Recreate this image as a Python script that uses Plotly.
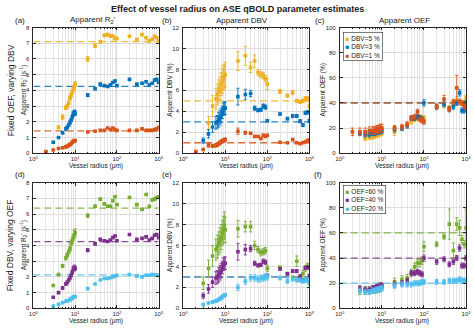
import plotly.graph_objects as go

# ---------------- data ----------------
radii = [2, 3, 4, 5, 6, 6.5, 7, 7.5, 8, 8.5, 9, 9.5, 10, 20, 30, 40, 50, 60, 70, 80, 90, 100,
         200, 300, 400, 500, 600, 700, 800, 900, 1000]

# (a) Apparent R2' , fixed OEF, varying DBV
r2_dbv5 = [None, None, 1.65, 2.3, 2.9, 3.0, 3.2, 3.5, 3.7, 3.9, 4.05, 4.2, 4.4, 6.0, 6.85, 7.1, 7.5, 7.55,
           7.45, 7.45, 7.3, 7.3, 7.45, 7.25, 7.55, 7.35, 7.15, 7.25, 7.45, 7.35, 7.15]
r2_dbv5_err = [0, 0, 0.1, 0.15, 0.12, 0.12, 0.12, 0.12, 0.12, 0.12, 0.12, 0.12, 0.15, 0.15, 0.12, 0.08, 0.08,
               0.08, 0.08, 0.08, 0.08, 0.08, 0.05, 0.05, 0.05, 0.05, 0.05, 0.05, 0.05, 0.05, 0.05]
r2_dbv3 = [None, 0.7, 1.0, 1.3, 1.55, 1.65, 1.8, 1.95, 2.1, 2.3, 2.5, 2.6, 2.55, 3.7, 4.1, 4.4, 4.3, 4.25,
           4.35, 4.5, 4.6, 4.3, 4.7, 4.4, 4.45, 4.55, 4.35, 4.45, 4.65, 4.7, 4.5]
r2_dbv3_err = [0, 0.05, 0.06, 0.08, 0.08, 0.08, 0.1, 0.1, 0.1, 0.12, 0.15, 0.15, 0.15, 0.1, 0.06, 0.05, 0.05,
               0.05, 0.05, 0.05, 0.05, 0.05, 0.04, 0.04, 0.04, 0.04, 0.04, 0.04, 0.04, 0.04, 0.04]
r2_dbv1 = [0.1, 0.2, 0.3, 0.35, 0.4, 0.45, 0.5, 0.55, 0.6, 0.7, 0.75, 0.8, 0.8, 1.35, 1.4, 1.45, 1.45, 1.6,
           1.5, 1.6, 1.5, 1.45, 1.45, 1.45, 1.55, 1.45, 1.45, 1.45, 1.5, 1.55, 1.65]
r2_dbv1_err = [0.03] * 31

# (b) Apparent DBV (%)
dbv_dbv5 = [None, None, 2.9, 4.5, 5.2, 5.6, 5.9, 6.2, 6.6, 6.9, 7.2, 7.3, 7.5, 8.8, 9.3, 8.2, 8.8, 7.7,
            7.5, 7.4, 7.1, 6.6, 5.9, 5.5, 5.8, 5.0, 4.9, 5.0, 5.2, 5.2, 4.5]
dbv_dbv5_err = [0, 0, 0.6, 1.0, 1.0, 1.0, 1.1, 1.1, 1.1, 1.2, 1.2, 1.2, 1.2, 0.9, 0.9, 0.5, 0.6, 0.3, 0.3,
                0.3, 0.3, 0.5, 0.2, 0.15, 0.2, 0.15, 0.15, 0.15, 0.2, 0.2, 0.2]
dbv_dbv3 = [None, 1.2, 1.85, 2.5, 2.9, 3.0, 3.2, 3.4, 3.6, 3.9, 4.2, 4.3, 4.3, 5.4, 5.6, 5.7, 4.3, 4.1,
            4.15, 4.5, 4.4, 3.1, 3.75, 3.3, 3.55, 3.55, 3.05, 2.7, 3.85, 3.9, 3.1]
dbv_dbv3_err = [0, 0.25, 0.4, 0.5, 0.6, 0.6, 0.7, 0.7, 0.7, 0.6, 0.6, 0.6, 0.6, 0.8, 0.5, 0.3, 0.2, 0.15,
                0.15, 0.2, 0.2, 0.1, 0.1, 0.1, 0.15, 0.15, 0.15, 0.15, 0.15, 0.15, 0.15]
dbv_dbv1 = [0.15, 0.35, 0.75, 0.7, 0.75, 0.8, 0.9, 1.0, 1.1, 1.15, 1.2, 1.25, 1.3, 2.1, 1.95, 1.9, 1.6,
            1.6, 1.4, 1.7, 1.6, 1.7, 1.05, 1.0, 1.3, 1.0, 0.9, 1.0, 1.1, 1.2, 1.25]
dbv_dbv1_err = [0.05, 0.1, 0.15, 0.15, 0.15, 0.15, 0.15, 0.15, 0.15, 0.15, 0.15, 0.15, 0.15, 0.3, 0.15,
                0.1, 0.1, 0.1, 0.1, 0.1, 0.1, 0.1, 0.05, 0.05, 0.05, 0.05, 0.05, 0.05, 0.05, 0.05, 0.05]

# (c) Apparent OEF (%)
oef_dbv5 = [None, None, 12, 13, 13, 14, 14, 15, 15, 15, 16, 16, 16, 17, 20, 22, 25, 27, 28, 29, 28, 28,
            37, 38, 36, 40, 42, 41, 40, 40, 44]
oef_dbv5_err = [0, 0, 2, 2, 2, 2, 2, 2, 2, 2, 2, 2, 2, 3, 2, 2, 2, 2, 2, 2, 2, 2, 2, 2, 2, 2, 3, 2, 2, 2, 2]
oef_dbv3 = [None, 16, 15, 15, 16, 16, 16, 17, 17, 17, 18, 18, 18, 19, 20, 22, 28, 28, 29, 28, 27, 40,
            37, 39, 35, 37, 40, 48, 34, 34, 40]
oef_dbv3_err = [0, 2, 2, 2, 2, 2, 2, 2, 2, 2, 2, 2, 2, 2, 2, 2, 2, 2, 2, 2, 2, 2.5, 2, 2, 2, 2, 2, 2.5, 2, 2, 2]
oef_dbv1 = [17, 17, 17, 18, 18, 18, 18, 19, 19, 19, 20, 20, 20, 20, 21, 23, 28, 29, 33, 27, 26, 25,
            37, 43, 35, 41, 52, 41, 40, 38, 36]
oef_dbv1_err = [3, 3, 3, 3, 3, 3, 3, 3, 3, 3, 3, 3, 3, 2, 2, 2, 2, 2, 2, 2, 2, 2, 2, 3, 2, 2, 10, 2, 2, 2, 2]

# (d) Apparent R2', fixed DBV, varying OEF
r2_oef60 = [None, 1.45, 2.15, 2.7, 3.2, 3.4, 3.6, 3.8, 4.15, 4.3, 4.5, 4.7, 4.8, 5.9, 6.5, 6.95, 6.65, 6.5,
            6.5, 6.85, 7.1, 6.6, 7.05, 6.6, 6.3, 7.25, 6.5, 6.9, 6.95, 7.05, 7.1]
r2_oef60_err = [0, 0.06, 0.08, 0.1, 0.12, 0.12, 0.12, 0.15, 0.2, 0.2, 0.2, 0.25, 0.25, 0.1, 0.08, 0.06,
                0.06, 0.06, 0.06, 0.06, 0.06, 0.06, 0.05, 0.05, 0.05, 0.05, 0.05, 0.05, 0.05, 0.05, 0.05]
r2_oef40 = r2_dbv3
r2_oef40_err = r2_dbv3_err
r2_oef20 = [None, 0.15, 0.25, 0.35, 0.45, 0.48, 0.5, 0.55, 0.6, 0.65, 0.7, 0.75, 0.75, 1.25, 1.55, 1.8,
            1.9, 1.9, 1.95, 2.0, 2.05, 2.1, 2.15, 2.05, 2.0, 2.1, 2.1, 2.15, 2.1, 2.1, 2.1]
r2_oef20_err = [0.02] * 31

# (e) Apparent DBV (%)
dbv_oef60 = [None, 2.4, 3.8, 5.0, 5.6, 5.9, 6.2, 6.5, 6.8, 7.2, 7.5, 7.9, 7.5, 7.6, 7.8, 7.8, 6.0, 5.6,
             5.3, 5.4, 5.5, 3.8, 3.9, 3.3, 2.9, 4.5, 2.9, 3.3, 3.8, 4.0, 2.5]
dbv_oef60_err = [0, 0.6, 0.8, 1.0, 1.0, 1.1, 1.1, 1.2, 1.2, 1.2, 1.3, 1.3, 1.2, 0.8, 0.5, 0.5, 0.4, 0.3,
                 0.3, 0.3, 0.3, 0.3, 0.15, 0.15, 0.2, 0.5, 0.2, 0.3, 0.3, 0.3, 0.3]
dbv_oef40 = dbv_dbv3
dbv_oef40_err = dbv_dbv3_err
dbv_oef20 = [None, 0.35, 0.5, 0.6, 0.7, 0.75, 0.85, 0.9, 1.0, 1.1, 1.15, 1.25, 1.3, 2.0, 2.6, 2.9, 2.9,
             2.8, 2.85, 2.9, 3.0, 3.0, 2.9, 2.6, 2.8, 2.7, 2.7, 2.6, 2.7, 2.7, 2.5]
dbv_oef20_err = [0, 0.08, 0.08, 0.1, 0.1, 0.1, 0.1, 0.1, 0.1, 0.1, 0.12, 0.12, 0.12, 0.3, 0.3, 0.3, 0.3,
                 0.3, 0.3, 0.3, 0.3, 0.3, 0.2, 0.2, 0.2, 0.2, 0.2, 0.2, 0.2, 0.2, 0.2]

# (f) Apparent OEF (%)
oef_oef60 = [None, 14, 14, 14, 15, 15, 15, 16, 16, 16, 17, 17, 17, 21, 23, 24, 28, 33, 36, 36, 38, 49,
             51, 57, 67, 46, 67, 64, 55, 51, 64]
oef_oef60_err = [0, 3, 3, 3, 3, 3, 3, 3, 3, 3, 3, 3, 3, 3, 3, 3, 3, 3, 3, 3, 3, 4, 2, 2, 12, 6, 5, 6, 3, 3,
                 15]
oef_oef40 = oef_dbv3
oef_oef40_err = oef_dbv3_err
oef_oef20 = [None, 14, 13, 13, 14, 14, 14, 15, 15, 15, 15, 16, 16, 18, 19, 19, 19, 20, 20, 20, 21, 21,
             21, 21, 22, 22, 22, 23, 22, 22, 22]
oef_oef20_err = [2] * 31

# true (simulated) values shown as dashed lines
true_r2_top = [7.1, 4.25, 1.42]
true_dbv_top = [5, 3, 1]
true_oef_top = [40, 40, 40]
true_r2_bot = [6.38, 4.25, 2.13]
true_dbv_bot = [3, 3, 3]
true_oef_bot = [60, 40, 20]

labels_top = ["DBV=5 %", "DBV=3 %", "DBV=1 %"]
labels_bot = ["OEF=60 %", "OEF=40 %", "OEF=20 %"]
colors_top = ["#EDB120", "#0072BD", "#D95319"]
colors_bot = ["#77AC30", "#7E2F8E", "#4DBEEE"]

x_range = [1, 1000]

# ---------------- figure ----------------
W, H = 474, 328
fig = go.Figure()

panels = [
    (1, [r2_dbv5, r2_dbv3, r2_dbv1], [r2_dbv5_err, r2_dbv3_err, r2_dbv1_err], true_r2_top, colors_top, labels_top),
    (2, [dbv_dbv5, dbv_dbv3, dbv_dbv1], [dbv_dbv5_err, dbv_dbv3_err, dbv_dbv1_err], true_dbv_top, colors_top, labels_top),
    (3, [oef_dbv5, oef_dbv3, oef_dbv1], [oef_dbv5_err, oef_dbv3_err, oef_dbv1_err], true_oef_top, colors_top, labels_top),
    (4, [r2_oef60, r2_oef40, r2_oef20], [r2_oef60_err, r2_oef40_err, r2_oef20_err], true_r2_bot, colors_bot, labels_bot),
    (5, [dbv_oef60, dbv_oef40, dbv_oef20], [dbv_oef60_err, dbv_oef40_err, dbv_oef20_err], true_dbv_bot, colors_bot, labels_bot),
    (6, [oef_oef60, oef_oef40, oef_oef20], [oef_oef60_err, oef_oef40_err, oef_oef20_err], true_oef_bot, colors_bot, labels_bot),
]

for idx, series, errs, truths, cols, labs in panels:
    xa = "x" if idx == 1 else f"x{idx}"
    ya = "y" if idx == 1 else f"y{idx}"
    for t, c in zip(truths, cols):
        fig.add_trace(go.Scatter(x=x_range, y=[t, t], mode="lines", xaxis=xa, yaxis=ya,
                                 line=dict(color=c, width=1.3, dash="7px,4px"), opacity=0.85,
                                 showlegend=False, hoverinfo="skip"))
    for s, e, c, lab in zip(series, errs, cols, labs):
        fig.add_trace(go.Scatter(
            x=radii, y=s, mode="markers", xaxis=xa, yaxis=ya, name=lab,
            marker=dict(color=c, size=3.6, symbol="square"),
            error_y=dict(type="data", array=e, color=c, thickness=0.9, width=1.6),
            showlegend=False))

font_family = "Liberation Sans, Arial, sans-serif"
axcol = "#262626"

xdoms = [[29 / W, 157 / W], [182 / W, 311 / W], [342 / W, 471 / W]]
ydoms = [[1 - 153 / H, 1 - 25 / H], [1 - 311 / H, 1 - 183 / H]]
yranges = [[0, 8], [0, 12], [0, 100]]
ydticks = [1, 2, 20]

minor_vals = [m * 10 ** k for k in range(3) for m in range(2, 10)]

for i in range(6):
    row, col = divmod(i, 3)
    n = i + 1
    xkey = "xaxis" if n == 1 else f"xaxis{n}"
    ykey = "yaxis" if n == 1 else f"yaxis{n}"
    yid = "y" if n == 1 else f"y{n}"
    xid = "x" if n == 1 else f"x{n}"
    fig.layout[xkey] = dict(
        domain=xdoms[col], anchor=yid, type="log", range=[0, 3],
        tickmode="array", tickvals=[1, 10, 100, 1000],
        ticktext=["10<sup>0</sup>", "10<sup>1</sup>", "10<sup>2</sup>", "10<sup>3</sup>"],
        showline=True, linecolor=axcol, linewidth=0.8, mirror="ticks",
        ticks="inside", ticklen=3, tickcolor=axcol, tickwidth=0.6,
        showgrid=True, gridcolor="#dcdcdc", gridwidth=0.6,
        minor=dict(tickmode="array", tickvals=minor_vals, ticks="inside", ticklen=1.5,
                   tickcolor=axcol, tickwidth=0.5, showgrid=True, gridcolor="#e6e6e6", gridwidth=0.6),
        tickfont=dict(size=6, color=axcol, family=font_family),
        zeroline=False, fixedrange=True, ticklabelstandoff=0,
    )
    fig.layout[ykey] = dict(
        domain=ydoms[row], anchor=xid, range=yranges[col], dtick=ydticks[col], tick0=0,
        showline=True, linecolor=axcol, linewidth=0.8, mirror="ticks",
        ticks="inside", ticklen=3, tickcolor=axcol, tickwidth=0.6,
        showgrid=True, gridcolor="#dcdcdc", gridwidth=0.6,
        tickfont=dict(size=6, color=axcol, family=font_family),
        zeroline=False, fixedrange=True, ticklabelstandoff=2,
    )

ann = []


def A(text, xpx, ypx, size=7, bold=False, angle=0, xanchor="center", yanchor="middle", **kw):
    ann.append(dict(text=f"<b>{text}</b>" if bold else text, x=xpx / W, y=1 - ypx / H,
                    xref="paper", yref="paper", showarrow=False, textangle=angle,
                    xanchor=xanchor, yanchor=yanchor,
                    font=dict(size=size, color="#1a1a1a", family=font_family), **kw))


A("Effect of vessel radius on ASE qBOLD parameter estimates", 237, 6.5, size=9, bold=True)
A("Apparent R<sub>2</sub>'", 90, 17.5, size=8)
A("Apparent DBV", 242, 17.5, size=8)
A("Apparent OEF", 408, 17.5, size=8)
A("(a)", 15, 17.5, size=8)
A("(b)", 166, 17.5, size=8)
A("(c)", 322, 17.5, size=8)
A("(d)", 15, 175, size=8)
A("(e)", 165, 175, size=8)
A("(f)", 320, 175, size=8)
for ypx in (166, 324):
    A("Vessel radius (μm)", 93, ypx, size=6.5)
    A("Vessel radius (μm)", 246, ypx, size=6.5)
    A("Vessel radius (μm)", 406, ypx, size=6.5)
for yc in (89, 247):
    A("Apparent R<sub>2</sub>' (s<sup>-1</sup>)", 19, yc, size=6.5, angle=-90)
    A("Apparent DBV (%)", 169, yc, size=6.5, angle=-90)
    A("Apparent OEF (%)", 325, yc, size=6.5, angle=-90)
A("Fixed OEF, varying DBV", 6, 89, size=8.5, angle=-90)
A("Fixed DBV, varying OEF", 6, 247, size=8.5, angle=-90)

# legends (drawn as boxed text with coloured markers)
for ytop, labs, cols in ((30, labels_top, colors_top), (185, labels_bot, colors_bot)):
    txt = "<br>".join(f"<span style='color:{c}'>■</span> {l}" for l, c in zip(labs, cols))
    A(txt, 345, ytop, size=6.5, xanchor="left", yanchor="top", align="left",
      bgcolor="white", bordercolor=axcol, borderwidth=0.6, borderpad=2)

fig.update_layout(
    width=W, height=H, autosize=False,
    margin=dict(l=0, r=0, t=0, b=0, pad=0),
    paper_bgcolor="white", plot_bgcolor="white",
    annotations=ann,
    showlegend=False,
)

fig.write_html("out.html")
